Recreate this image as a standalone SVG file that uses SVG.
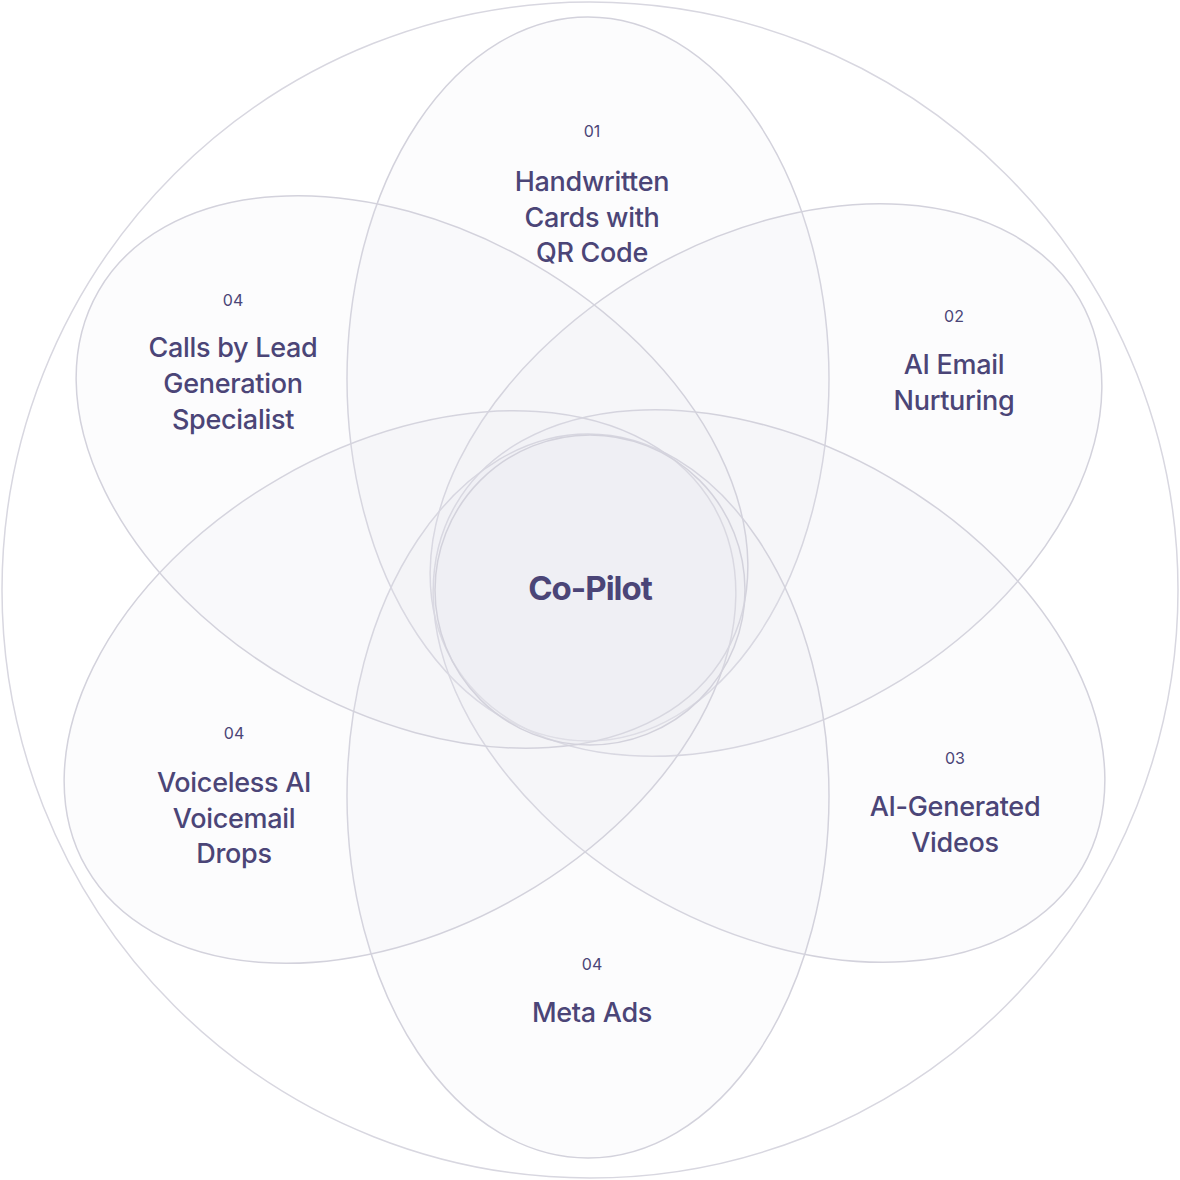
<svg xmlns="http://www.w3.org/2000/svg" width="1180" height="1180" viewBox="0 0 1180 1180">
<style>
.petal{fill:#e6e6ef;fill-opacity:0.13;stroke:#d3d2dc;stroke-width:1.5}
.outer{fill:#ffffff;stroke:#d8d7e0;stroke-width:1.5}
.core{fill:#ececf2;fill-opacity:0.2;stroke:#d3d2dc;stroke-width:1.5}
.num{font-family:Inter,"Liberation Sans",sans-serif;font-size:16px;fill:#4b4577;text-anchor:middle}
.lbl{font-family:Inter,"Liberation Sans",sans-serif;font-size:27px;font-weight:500;fill:#4b4577;text-anchor:middle;letter-spacing:-0.3px}
.ctr{font-family:Inter,"Liberation Sans",sans-serif;font-size:33px;font-weight:700;fill:#4b4577;text-anchor:middle;letter-spacing:-1px}
</style>
<rect width="1180" height="1180" fill="#ffffff"/>
<circle id="outer" class="outer" cx="590" cy="590" r="588"/>
<g id="petal-01"><ellipse class="petal" cx="588" cy="379" rx="241" ry="362"/></g>
<g id="petal-02"><ellipse class="petal" cx="766" cy="480" rx="362" ry="241" transform="rotate(-30 766 480)"/></g>
<g id="petal-03"><ellipse class="petal" cx="769" cy="686" rx="362" ry="241" transform="rotate(30 769 686)"/></g>
<g id="petal-meta"><ellipse class="petal" cx="588" cy="796" rx="241" ry="362"/></g>
<g id="petal-voiceless"><ellipse class="petal" cx="400" cy="687" rx="362" ry="241" transform="rotate(-30 400 687)"/></g>
<g id="petal-calls"><ellipse class="petal" cx="412" cy="472" rx="362" ry="241" transform="rotate(30 412 472)"/></g>
<g id="core"><circle class="core" cx="590" cy="590" r="155"/>
<text class="ctr" x="590" y="600">Co-Pilot</text></g>
<g id="label-01"><text class="num" x="592" y="137">01</text>
<text class="lbl" x="592" y="191">Handwritten</text>
<text class="lbl" x="592" y="227">Cards with</text>
<text class="lbl" x="592" y="262">QR Code</text></g>
<g id="label-02"><text class="num" x="954" y="322">02</text>
<text class="lbl" x="954" y="374">AI Email</text>
<text class="lbl" x="954" y="410">Nurturing</text></g>
<g id="label-03"><text class="num" x="955" y="764">03</text>
<text class="lbl" x="955" y="816">AI-Generated</text>
<text class="lbl" x="955" y="852">Videos</text></g>
<g id="label-meta"><text class="num" x="592" y="970">04</text>
<text class="lbl" x="592" y="1022">Meta Ads</text></g>
<g id="label-voiceless"><text class="num" x="234" y="739">04</text>
<text class="lbl" x="234" y="792">Voiceless AI</text>
<text class="lbl" x="234" y="828">Voicemail</text>
<text class="lbl" x="234" y="863">Drops</text></g>
<g id="label-calls"><text class="num" x="233" y="306">04</text>
<text class="lbl" x="233" y="357">Calls by Lead</text>
<text class="lbl" x="233" y="393">Generation</text>
<text class="lbl" x="233" y="429">Specialist</text></g>
<g id="connectors"></g>
</svg>
